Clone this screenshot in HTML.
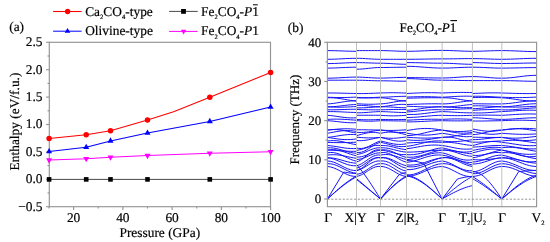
<!DOCTYPE html>
<html><head><meta charset="utf-8"><title>Fe2CO4 enthalpy and phonons</title>
<style>html,body{margin:0;padding:0;background:#fff;} svg{display:block;} text{font-family:"Liberation Serif", "Times New Roman", serif;fill:#000;text-rendering:geometricPrecision;stroke:#000;stroke-width:0.18px;}</style>
</head><body>
<svg width="550" height="242" viewBox="0 0 550 242">
<rect width="550" height="242" fill="#fff"/>
<rect x="49.3" y="42.3" width="221.20" height="164.40" fill="none" stroke="#959595" stroke-width="1.15"/>
<line x1="46.10" y1="206.70" x2="49.3" y2="206.70" stroke="#959595" stroke-width="1.15"/>
<line x1="47.50" y1="193.00" x2="49.3" y2="193.00" stroke="#959595" stroke-width="1.15"/>
<line x1="46.10" y1="179.30" x2="49.3" y2="179.30" stroke="#959595" stroke-width="1.15"/>
<line x1="47.50" y1="165.60" x2="49.3" y2="165.60" stroke="#959595" stroke-width="1.15"/>
<line x1="46.10" y1="151.90" x2="49.3" y2="151.90" stroke="#959595" stroke-width="1.15"/>
<line x1="47.50" y1="138.20" x2="49.3" y2="138.20" stroke="#959595" stroke-width="1.15"/>
<line x1="46.10" y1="124.50" x2="49.3" y2="124.50" stroke="#959595" stroke-width="1.15"/>
<line x1="47.50" y1="110.80" x2="49.3" y2="110.80" stroke="#959595" stroke-width="1.15"/>
<line x1="46.10" y1="97.10" x2="49.3" y2="97.10" stroke="#959595" stroke-width="1.15"/>
<line x1="47.50" y1="83.40" x2="49.3" y2="83.40" stroke="#959595" stroke-width="1.15"/>
<line x1="46.10" y1="69.70" x2="49.3" y2="69.70" stroke="#959595" stroke-width="1.15"/>
<line x1="47.50" y1="56.00" x2="49.3" y2="56.00" stroke="#959595" stroke-width="1.15"/>
<line x1="46.10" y1="42.30" x2="49.3" y2="42.30" stroke="#959595" stroke-width="1.15"/>
<line x1="49.00" y1="206.7" x2="49.00" y2="208.50" stroke="#959595" stroke-width="1.15"/>
<line x1="73.62" y1="206.7" x2="73.62" y2="209.90" stroke="#959595" stroke-width="1.15"/>
<line x1="98.24" y1="206.7" x2="98.24" y2="208.50" stroke="#959595" stroke-width="1.15"/>
<line x1="122.87" y1="206.7" x2="122.87" y2="209.90" stroke="#959595" stroke-width="1.15"/>
<line x1="147.49" y1="206.7" x2="147.49" y2="208.50" stroke="#959595" stroke-width="1.15"/>
<line x1="172.11" y1="206.7" x2="172.11" y2="209.90" stroke="#959595" stroke-width="1.15"/>
<line x1="196.73" y1="206.7" x2="196.73" y2="208.50" stroke="#959595" stroke-width="1.15"/>
<line x1="221.36" y1="206.7" x2="221.36" y2="209.90" stroke="#959595" stroke-width="1.15"/>
<line x1="245.98" y1="206.7" x2="245.98" y2="208.50" stroke="#959595" stroke-width="1.15"/>
<line x1="270.60" y1="206.7" x2="270.60" y2="209.90" stroke="#959595" stroke-width="1.15"/>
<text x="42.5" y="210.60" text-anchor="end" font-size="13.4">−0.5</text>
<text x="42.5" y="183.20" text-anchor="end" font-size="13.4">0.0</text>
<text x="42.5" y="155.80" text-anchor="end" font-size="13.4">0.5</text>
<text x="42.5" y="128.40" text-anchor="end" font-size="13.4">1.0</text>
<text x="42.5" y="101.00" text-anchor="end" font-size="13.4">1.5</text>
<text x="42.5" y="73.60" text-anchor="end" font-size="13.4">2.0</text>
<text x="42.5" y="46.20" text-anchor="end" font-size="13.4">2.5</text>
<text x="73.62" y="222.3" text-anchor="middle" font-size="13.4">20</text>
<text x="122.87" y="222.3" text-anchor="middle" font-size="13.4">40</text>
<text x="172.11" y="222.3" text-anchor="middle" font-size="13.4">60</text>
<text x="221.36" y="222.3" text-anchor="middle" font-size="13.4">80</text>
<text x="270.60" y="222.3" text-anchor="middle" font-size="13.4">100</text>
<text x="159.8" y="237.1" text-anchor="middle" font-size="13.4">Pressure (GPa)</text>
<text transform="translate(19.0,121.5) rotate(-90)" x="0" y="0" text-anchor="middle" font-size="13.4">Enthalpy (eV/f.u.)</text>
<text x="9.2" y="31.0" font-size="13.4">(a)</text>
<polyline points="49.10,179.40 86.20,179.40 110.50,179.40 147.50,179.40 209.80,179.40 270.60,179.40" fill="none" stroke="#333" stroke-width="0.9" stroke-linejoin="round"/>
<polyline points="49.10,160.10 86.20,158.70 110.50,157.20 147.50,155.60 209.80,153.30 270.60,151.70" fill="none" stroke="#ff00ff" stroke-width="1.05" stroke-linejoin="round"/>
<polyline points="49.10,151.60 86.20,147.30 110.50,140.90 147.50,133.10 209.80,121.40 270.60,107.00" fill="none" stroke="#0000ff" stroke-width="1.05" stroke-linejoin="round"/>
<polyline points="49.10,138.60 86.20,134.80 110.50,130.70 147.50,119.90 173.60,111.70 209.80,97.20 270.60,72.50" fill="none" stroke="#ff0000" stroke-width="1.05" stroke-linejoin="round"/>
<rect x="46.80" y="177.10" width="4.6" height="4.6" fill="#000"/>
<rect x="83.90" y="177.10" width="4.6" height="4.6" fill="#000"/>
<rect x="108.20" y="177.10" width="4.6" height="4.6" fill="#000"/>
<rect x="145.20" y="177.10" width="4.6" height="4.6" fill="#000"/>
<rect x="207.50" y="177.10" width="4.6" height="4.6" fill="#000"/>
<rect x="268.30" y="177.10" width="4.6" height="4.6" fill="#000"/>
<polygon points="49.10,163.63 46.10,158.33 52.10,158.33" fill="#ff00ff"/>
<polygon points="86.20,162.23 83.20,156.93 89.20,156.93" fill="#ff00ff"/>
<polygon points="110.50,160.73 107.50,155.43 113.50,155.43" fill="#ff00ff"/>
<polygon points="147.50,159.13 144.50,153.83 150.50,153.83" fill="#ff00ff"/>
<polygon points="209.80,156.83 206.80,151.53 212.80,151.53" fill="#ff00ff"/>
<polygon points="270.60,155.23 267.60,149.93 273.60,149.93" fill="#ff00ff"/>
<polygon points="49.10,148.07 46.10,153.37 52.10,153.37" fill="#0000ff"/>
<polygon points="86.20,143.77 83.20,149.07 89.20,149.07" fill="#0000ff"/>
<polygon points="110.50,137.37 107.50,142.67 113.50,142.67" fill="#0000ff"/>
<polygon points="147.50,129.57 144.50,134.87 150.50,134.87" fill="#0000ff"/>
<polygon points="209.80,117.87 206.80,123.17 212.80,123.17" fill="#0000ff"/>
<polygon points="270.60,103.47 267.60,108.77 273.60,108.77" fill="#0000ff"/>
<circle cx="49.10" cy="138.60" r="2.75" fill="#ff0000"/>
<circle cx="86.20" cy="134.80" r="2.75" fill="#ff0000"/>
<circle cx="110.50" cy="130.70" r="2.75" fill="#ff0000"/>
<circle cx="147.50" cy="119.90" r="2.75" fill="#ff0000"/>
<circle cx="209.80" cy="97.20" r="2.75" fill="#ff0000"/>
<circle cx="270.60" cy="72.50" r="2.75" fill="#ff0000"/>
<line x1="53.1" y1="11.5" x2="81.6" y2="11.5" stroke="#ff0000" stroke-width="1.1"/>
<circle cx="67.60" cy="11.50" r="2.65" fill="#ff0000"/>
<text x="85.2" y="15.6" font-size="13.4">Ca<tspan font-size="6.6" dy="3.5">2</tspan><tspan dy="-3.5">CO</tspan><tspan font-size="6.6" dy="3.5">4</tspan><tspan dy="-3.5">-type</tspan></text>
<line x1="53.1" y1="31.2" x2="81.6" y2="31.2" stroke="#0000ff" stroke-width="1.0"/>
<polygon points="67.50,28.00 64.70,32.80 70.30,32.80" fill="#0000ff"/>
<text x="85.2" y="35.1" font-size="13.4">Olivine-type</text>
<line x1="169.1" y1="11.4" x2="197.7" y2="11.4" stroke="#333" stroke-width="0.9"/>
<rect x="181.10" y="9.00" width="4.8" height="4.8" fill="#000"/>
<text x="201.0" y="15.6" font-size="13.4">Fe<tspan font-size="6.6" dy="3.5">2</tspan><tspan dy="-3.5">CO</tspan><tspan font-size="6.6" dy="3.5">4</tspan><tspan dy="-3.5">-</tspan><tspan font-style="italic">P</tspan>1</text>
<line x1="253.0" y1="4.8" x2="257.8" y2="4.8" stroke="#000" stroke-width="1.0"/>
<line x1="169.1" y1="31.4" x2="197.7" y2="31.4" stroke="#ff00ff" stroke-width="1.0"/>
<polygon points="183.60,34.60 180.90,29.80 186.30,29.80" fill="#ff00ff"/>
<text x="201.0" y="35.1" font-size="13.4">Fe<tspan font-size="6.6" dy="3.5">2</tspan><tspan dy="-3.5">CO</tspan><tspan font-size="6.6" dy="3.5">4</tspan><tspan dy="-3.5">-</tspan><tspan font-style="italic">P</tspan>1</text>
<path d="M327.40,50.60 L331.04,50.63 L334.67,50.70 L338.31,50.82 L341.95,50.95 L345.59,51.08 L349.23,51.20 L352.86,51.27 L356.50,51.30 M356.50,50.60 L359.50,50.60 L362.50,50.60 L365.50,50.60 L368.50,50.60 L371.50,50.60 L374.50,50.60 L377.50,50.60 L380.50,50.60 M380.50,50.60 L383.75,50.63 L387.00,50.70 L390.25,50.82 L393.50,50.95 L396.75,51.08 L400.00,51.20 L403.25,51.27 L406.50,51.30 M406.50,51.30 L410.95,51.27 L415.40,51.17 L419.85,51.02 L424.30,50.85 L428.75,50.68 L433.20,50.53 L437.65,50.43 L442.10,50.40 M442.10,50.40 L445.89,50.43 L449.68,50.53 L453.46,50.68 L457.25,50.85 L461.04,51.02 L464.82,51.17 L468.61,51.27 L472.40,51.30 M472.40,51.30 L476.07,51.27 L479.75,51.20 L483.43,51.08 L487.10,50.95 L490.77,50.82 L494.45,50.70 L498.12,50.63 L501.80,50.60 M501.80,50.60 L506.15,50.64 L510.50,50.75 L514.85,50.91 L519.20,51.10 L523.55,51.29 L527.90,51.45 L532.25,51.56 L536.60,51.60 M327.40,59.30 L331.04,59.26 L334.67,59.15 L338.31,58.99 L341.95,58.80 L345.59,58.61 L349.23,58.45 L352.86,58.34 L356.50,58.30 M356.50,58.30 L359.50,58.34 L362.50,58.45 L365.50,58.61 L368.50,58.80 L371.50,58.99 L374.50,59.15 L377.50,59.26 L380.50,59.30 M380.50,59.30 L383.75,59.30 L387.00,59.30 L390.25,59.30 L393.50,59.30 L396.75,59.30 L400.00,59.30 L403.25,59.30 L406.50,59.30 M406.50,59.30 L410.95,59.28 L415.40,59.24 L419.85,59.18 L424.30,59.10 L428.75,59.02 L433.20,58.96 L437.65,58.92 L442.10,58.90 M442.10,58.90 L445.89,58.89 L449.68,58.86 L453.46,58.81 L457.25,58.75 L461.04,58.69 L464.82,58.64 L468.61,58.61 L472.40,58.60 M472.40,58.60 L476.07,58.63 L479.75,58.70 L483.43,58.82 L487.10,58.95 L490.77,59.08 L494.45,59.20 L498.12,59.27 L501.80,59.30 M501.80,59.30 L506.15,59.26 L510.50,59.15 L514.85,58.99 L519.20,58.80 L523.55,58.61 L527.90,58.45 L532.25,58.34 L536.60,58.30 M327.40,63.60 L331.04,63.56 L334.67,63.45 L338.31,63.29 L341.95,63.10 L345.59,62.91 L349.23,62.75 L352.86,62.64 L356.50,62.60 M356.50,62.60 L359.50,62.62 L362.50,62.69 L365.50,62.79 L368.50,62.90 L371.50,63.01 L374.50,63.11 L377.50,63.18 L380.50,63.20 M380.50,63.20 L383.75,63.24 L387.00,63.36 L390.25,63.54 L393.50,63.75 L396.75,63.96 L400.00,64.14 L403.25,64.26 L406.50,64.30 M406.50,62.60 L410.95,62.62 L415.40,62.69 L419.85,62.79 L424.30,62.90 L428.75,63.01 L433.20,63.11 L437.65,63.18 L442.10,63.20 M442.10,63.20 L445.89,63.24 L449.68,63.36 L453.46,63.54 L457.25,63.75 L461.04,63.96 L464.82,64.14 L468.61,64.26 L472.40,64.30 M472.40,62.60 L476.07,62.63 L479.75,62.73 L483.43,62.88 L487.10,63.05 L490.77,63.22 L494.45,63.37 L498.12,63.47 L501.80,63.50 M501.80,63.50 L506.15,63.48 L510.50,63.43 L514.85,63.35 L519.20,63.25 L523.55,63.15 L527.90,63.07 L532.25,63.02 L536.60,63.00 M327.40,68.10 L331.04,68.07 L334.67,67.97 L338.31,67.82 L341.95,67.65 L345.59,67.48 L349.23,67.33 L352.86,67.23 L356.50,67.20 M356.50,69.20 L359.50,69.14 L362.50,68.95 L365.50,68.68 L368.50,68.35 L371.50,68.02 L374.50,67.75 L377.50,67.56 L380.50,67.50 M380.50,67.50 L383.75,67.49 L387.00,67.46 L390.25,67.41 L393.50,67.35 L396.75,67.29 L400.00,67.24 L403.25,67.21 L406.50,67.20 M406.50,66.30 L410.95,66.37 L415.40,66.56 L419.85,66.86 L424.30,67.20 L428.75,67.54 L433.20,67.84 L437.65,68.03 L442.10,68.10 M442.10,68.10 L445.89,68.07 L449.68,67.97 L453.46,67.82 L457.25,67.65 L461.04,67.48 L464.82,67.33 L468.61,67.23 L472.40,67.20 M472.40,67.20 L476.07,67.23 L479.75,67.33 L483.43,67.48 L487.10,67.65 L490.77,67.82 L494.45,67.97 L498.12,68.07 L501.80,68.10 M501.80,68.10 L506.15,68.08 L510.50,68.03 L514.85,67.95 L519.20,67.85 L523.55,67.75 L527.90,67.67 L532.25,67.62 L536.60,67.60 M327.40,78.20 L331.04,78.16 L334.67,78.04 L338.31,77.86 L341.95,77.65 L345.59,77.44 L349.23,77.26 L352.86,77.14 L356.50,77.10 M356.50,77.10 L359.50,77.14 L362.50,77.25 L365.50,77.41 L368.50,77.60 L371.50,77.79 L374.50,77.95 L377.50,78.06 L380.50,78.10 M380.50,78.10 L383.75,78.07 L387.00,77.98 L390.25,77.85 L393.50,77.70 L396.75,77.55 L400.00,77.42 L403.25,77.33 L406.50,77.30 M406.50,77.60 L410.95,77.62 L415.40,77.66 L419.85,77.72 L424.30,77.80 L428.75,77.88 L433.20,77.94 L437.65,77.98 L442.10,78.00 M442.10,78.00 L445.89,77.95 L449.68,77.79 L453.46,77.57 L457.25,77.30 L461.04,77.03 L464.82,76.81 L468.61,76.65 L472.40,76.60 M472.40,76.60 L476.07,76.66 L479.75,76.83 L483.43,77.09 L487.10,77.40 L490.77,77.71 L494.45,77.97 L498.12,78.14 L501.80,78.20 M501.80,78.20 L506.15,78.09 L510.50,77.78 L514.85,77.30 L519.20,76.75 L523.55,76.20 L527.90,75.72 L532.25,75.41 L536.60,75.30 M327.40,80.20 L331.04,80.20 L334.67,80.20 L338.31,80.20 L341.95,80.20 L345.59,80.20 L349.23,80.20 L352.86,80.20 L356.50,80.20 M356.50,80.20 L359.50,80.22 L362.50,80.29 L365.50,80.39 L368.50,80.50 L371.50,80.61 L374.50,80.71 L377.50,80.78 L380.50,80.80 M380.50,80.80 L383.75,80.82 L387.00,80.86 L390.25,80.92 L393.50,81.00 L396.75,81.08 L400.00,81.14 L403.25,81.18 L406.50,81.20 M406.50,78.60 L410.95,78.66 L415.40,78.83 L419.85,79.09 L424.30,79.40 L428.75,79.71 L433.20,79.97 L437.65,80.14 L442.10,80.20 M442.10,80.20 L445.89,80.22 L449.68,80.26 L453.46,80.32 L457.25,80.40 L461.04,80.48 L464.82,80.54 L468.61,80.58 L472.40,80.60 M472.40,80.60 L476.07,80.60 L479.75,80.60 L483.43,80.60 L487.10,80.60 L490.77,80.60 L494.45,80.60 L498.12,80.60 L501.80,80.60 M501.80,80.60 L506.15,80.63 L510.50,80.70 L514.85,80.82 L519.20,80.95 L523.55,81.08 L527.90,81.20 L532.25,81.27 L536.60,81.30 M327.40,93.00 L330.31,92.98 L333.22,92.99 L336.13,93.03 L339.04,93.09 L341.95,93.16 L344.86,93.24 L347.77,93.32 L350.68,93.40 L353.59,93.46 L356.50,93.50 M327.40,97.20 L330.31,97.32 L333.22,97.42 L336.13,97.50 L339.04,97.54 L341.95,97.54 L344.86,97.51 L347.77,97.44 L350.68,97.34 L353.59,97.22 L356.50,97.10 M327.40,97.80 L330.31,97.74 L333.22,97.83 L336.13,98.07 L339.04,98.44 L341.95,98.90 L344.86,99.40 L347.77,99.90 L350.68,100.34 L353.59,100.68 L356.50,100.90 M327.40,103.90 L330.31,103.72 L333.22,103.42 L336.13,103.01 L339.04,102.55 L341.95,102.07 L344.86,101.62 L347.77,101.25 L350.68,100.99 L353.59,100.87 L356.50,100.90 M327.40,106.80 L330.31,106.79 L333.22,106.67 L336.13,106.45 L339.04,106.15 L341.95,105.80 L344.86,105.44 L347.77,105.10 L350.68,104.81 L353.59,104.60 L356.50,104.50 M327.40,106.80 L330.31,106.96 L333.22,107.09 L336.13,107.17 L339.04,107.21 L341.95,107.19 L344.86,107.11 L347.77,107.00 L350.68,106.84 L353.59,106.67 L356.50,106.50 M327.40,109.80 L330.31,109.81 L333.22,109.80 L336.13,109.75 L339.04,109.68 L341.95,109.59 L344.86,109.50 L347.77,109.40 L350.68,109.31 L353.59,109.24 L356.50,109.20 M327.40,111.60 L330.31,111.58 L333.22,111.61 L336.13,111.69 L339.04,111.79 L341.95,111.93 L344.86,112.07 L347.77,112.21 L350.68,112.34 L353.59,112.44 L356.50,112.50 M327.40,115.30 L330.31,115.54 L333.22,115.87 L336.13,116.28 L339.04,116.71 L341.95,117.12 L344.86,117.48 L347.77,117.75 L350.68,117.90 L353.59,117.92 L356.50,117.80 M327.40,119.40 L330.31,119.25 L333.22,119.16 L336.13,119.12 L339.04,119.16 L341.95,119.26 L344.86,119.41 L347.77,119.59 L350.68,119.80 L353.59,120.01 L356.50,120.20 M327.40,120.70 L330.31,120.88 L333.22,121.14 L336.13,121.46 L339.04,121.80 L341.95,122.13 L344.86,122.42 L347.77,122.64 L350.68,122.76 L353.59,122.78 L356.50,122.70 M327.40,130.10 L330.31,129.82 L333.22,129.53 L336.13,129.25 L339.04,129.02 L341.95,128.86 L344.86,128.78 L347.77,128.78 L350.68,128.88 L353.59,129.06 L356.50,129.30 M327.40,130.10 L330.31,129.73 L333.22,129.55 L336.13,129.57 L339.04,129.78 L341.95,130.18 L344.86,130.71 L347.77,131.33 L350.68,131.98 L353.59,132.59 L356.50,133.10 M327.40,133.30 L330.31,132.78 L333.22,132.22 L336.13,131.67 L339.04,131.19 L341.95,130.82 L344.86,130.60 L347.77,130.55 L350.68,130.68 L353.59,130.97 L356.50,131.40 M327.40,137.40 L330.31,137.10 L333.22,136.69 L336.13,136.22 L339.04,135.74 L341.95,135.28 L344.86,134.90 L347.77,134.64 L350.68,134.51 L353.59,134.53 L356.50,134.70 M327.40,137.40 L330.31,137.83 L333.22,138.29 L336.13,138.73 L339.04,139.12 L341.95,139.41 L344.86,139.58 L347.77,139.61 L350.68,139.50 L353.59,139.25 L356.50,138.90 M327.40,141.00 L330.31,140.70 L333.22,140.60 L336.13,140.73 L339.04,141.06 L341.95,141.57 L344.86,142.21 L347.77,142.90 L350.68,143.60 L353.59,144.21 L356.50,144.70 M327.40,142.40 L330.31,142.50 L333.22,142.57 L336.13,142.62 L339.04,142.64 L341.95,142.63 L344.86,142.58 L347.77,142.51 L350.68,142.41 L353.59,142.31 L356.50,142.20 M327.40,145.50 L330.31,145.75 L333.22,146.11 L336.13,146.57 L339.04,147.06 L341.95,147.56 L344.86,147.99 L347.77,148.33 L350.68,148.54 L353.59,148.60 L356.50,148.50 M327.40,147.80 L330.31,147.78 L333.22,148.03 L336.13,148.52 L339.04,149.21 L341.95,150.04 L344.86,150.91 L347.77,151.75 L350.68,152.47 L353.59,153.01 L356.50,153.30 M327.40,150.10 L330.31,150.19 L333.22,150.33 L336.13,150.50 L339.04,150.70 L341.95,150.89 L344.86,151.07 L347.77,151.21 L350.68,151.30 L353.59,151.33 L356.50,151.30 M327.40,150.10 L330.31,149.70 L333.22,149.62 L336.13,149.86 L339.04,150.41 L341.95,151.20 L344.86,152.17 L347.77,153.21 L350.68,154.23 L353.59,155.12 L356.50,155.80 M327.40,152.80 L330.31,152.46 L333.22,152.57 L336.13,153.11 L339.04,154.03 L341.95,155.24 L344.86,156.62 L347.77,158.04 L350.68,159.36 L353.59,160.45 L356.50,161.20 M327.40,155.10 L330.31,154.81 L333.22,154.71 L336.13,154.81 L339.04,155.09 L341.95,155.52 L344.86,156.08 L347.77,156.69 L350.68,157.30 L353.59,157.86 L356.50,158.30 M327.40,157.80 L330.31,158.22 L333.22,158.98 L336.13,160.01 L339.04,161.22 L341.95,162.47 L344.86,163.66 L347.77,164.66 L350.68,165.37 L353.59,165.73 L356.50,165.70 M327.40,157.80 L330.31,157.84 L333.22,158.15 L336.13,158.68 L339.04,159.39 L341.95,160.21 L344.86,161.06 L347.77,161.85 L350.68,162.51 L353.59,162.98 L356.50,163.20 M327.40,161.00 L330.31,161.30 L333.22,162.04 L336.13,163.15 L339.04,164.52 L341.95,166.02 L344.86,167.50 L347.77,168.81 L350.68,169.83 L353.59,170.46 L356.50,170.63 M327.40,163.70 L330.31,163.78 L333.22,164.32 L336.13,165.26 L339.04,166.52 L341.95,167.96 L344.86,169.45 L347.77,170.84 L350.68,171.99 L353.59,172.80 L356.50,173.18 M327.40,166.50 L330.31,166.89 L333.22,167.73 L336.13,168.93 L339.04,170.37 L341.95,171.93 L344.86,173.43 L347.77,174.75 L350.68,175.74 L353.59,176.31 L356.50,176.40 M356.50,93.50 L358.90,93.55 L361.30,93.57 L363.70,93.56 L366.10,93.52 L368.50,93.45 L370.90,93.36 L373.30,93.27 L375.70,93.17 L378.10,93.07 L380.50,93.00 M356.50,97.40 L358.90,97.49 L361.30,97.57 L363.70,97.62 L366.10,97.63 L368.50,97.62 L370.90,97.57 L373.30,97.50 L375.70,97.41 L378.10,97.30 L380.50,97.20 M356.50,97.90 L358.90,97.92 L361.30,97.94 L363.70,97.95 L366.10,97.95 L368.50,97.94 L370.90,97.92 L373.30,97.89 L375.70,97.86 L378.10,97.83 L380.50,97.80 M356.50,103.70 L358.90,103.84 L361.30,103.98 L363.70,104.11 L366.10,104.20 L368.50,104.25 L370.90,104.26 L373.30,104.22 L375.70,104.15 L378.10,104.03 L380.50,103.90 M356.50,105.40 L358.90,105.37 L361.30,105.40 L363.70,105.51 L366.10,105.67 L368.50,105.88 L370.90,106.10 L373.30,106.33 L375.70,106.53 L378.10,106.70 L380.50,106.80 M356.50,107.80 L358.90,107.85 L361.30,107.84 L363.70,107.78 L366.10,107.68 L368.50,107.53 L370.90,107.37 L373.30,107.20 L375.70,107.03 L378.10,106.90 L380.50,106.80 M356.50,109.50 L358.90,109.54 L361.30,109.60 L363.70,109.65 L366.10,109.71 L368.50,109.76 L370.90,109.80 L373.30,109.83 L375.70,109.84 L378.10,109.83 L380.50,109.80 M356.50,112.80 L358.90,112.80 L361.30,112.74 L363.70,112.63 L366.10,112.48 L368.50,112.30 L370.90,112.11 L373.30,111.92 L375.70,111.77 L378.10,111.66 L380.50,111.60 M356.50,115.30 L358.90,115.28 L361.30,115.27 L363.70,115.26 L366.10,115.25 L368.50,115.25 L370.90,115.25 L373.30,115.26 L375.70,115.27 L378.10,115.28 L380.50,115.30 M356.50,119.40 L358.90,119.53 L361.30,119.64 L363.70,119.73 L366.10,119.79 L368.50,119.81 L370.90,119.79 L373.30,119.73 L375.70,119.64 L378.10,119.53 L380.50,119.40 M356.50,120.60 L358.90,120.77 L361.30,120.92 L363.70,121.05 L366.10,121.14 L368.50,121.18 L370.90,121.17 L373.30,121.11 L375.70,121.00 L378.10,120.86 L380.50,120.70 M356.50,129.80 L358.90,129.78 L361.30,129.77 L363.70,129.78 L366.10,129.81 L368.50,129.85 L370.90,129.90 L373.30,129.95 L375.70,130.01 L378.10,130.06 L380.50,130.10 M356.50,132.30 L358.90,132.45 L361.30,132.48 L363.70,132.38 L366.10,132.16 L368.50,131.86 L370.90,131.48 L373.30,131.08 L375.70,130.70 L378.10,130.36 L380.50,130.10 M356.50,135.60 L358.90,135.00 L361.30,134.35 L363.70,133.70 L366.10,133.13 L368.50,132.69 L370.90,132.42 L373.30,132.35 L375.70,132.49 L378.10,132.81 L380.50,133.30 M356.50,140.50 L358.90,140.67 L361.30,140.68 L363.70,140.51 L366.10,140.20 L368.50,139.76 L370.90,139.24 L373.30,138.69 L375.70,138.17 L378.10,137.72 L380.50,137.40 M356.50,137.20 L358.90,137.39 L361.30,137.57 L363.70,137.72 L366.10,137.83 L368.50,137.89 L370.90,137.89 L373.30,137.83 L375.70,137.73 L378.10,137.58 L380.50,137.40 M356.50,148.00 L358.90,148.44 L361.30,148.49 L363.70,148.15 L366.10,147.46 L368.50,146.47 L370.90,145.29 L373.30,144.04 L375.70,142.83 L378.10,141.78 L380.50,141.00 M356.50,152.40 L358.90,152.55 L361.30,152.20 L363.70,151.38 L366.10,150.17 L368.50,148.69 L370.90,147.08 L373.30,145.50 L375.70,144.11 L378.10,143.04 L380.50,142.40 M356.50,150.40 L358.90,150.01 L361.30,149.43 L363.70,148.69 L366.10,147.89 L368.50,147.09 L370.90,146.37 L373.30,145.81 L375.70,145.46 L378.10,145.35 L380.50,145.50 M356.50,154.50 L358.90,154.19 L361.30,153.59 L363.70,152.75 L366.10,151.75 L368.50,150.69 L370.90,149.68 L373.30,148.81 L375.70,148.17 L378.10,147.82 L380.50,147.80 M356.50,157.00 L358.90,157.04 L361.30,156.74 L363.70,156.12 L366.10,155.26 L368.50,154.22 L370.90,153.13 L373.30,152.07 L375.70,151.16 L378.10,150.48 L380.50,150.10 M356.50,162.00 L358.90,161.12 L361.30,159.74 L363.70,158.00 L366.10,156.07 L368.50,154.14 L370.90,152.40 L373.30,151.01 L375.70,150.11 L378.10,149.80 L380.50,150.10 M356.50,159.50 L358.90,159.29 L361.30,158.77 L363.70,158.00 L366.10,157.04 L368.50,156.00 L370.90,154.97 L373.30,154.06 L375.70,153.35 L378.10,152.92 L380.50,152.80 M356.50,165.70 L358.90,165.03 L361.30,163.91 L363.70,162.44 L366.10,160.77 L368.50,159.07 L370.90,157.50 L373.30,156.21 L375.70,155.33 L378.10,154.95 L380.50,155.10 M356.50,170.70 L358.90,169.91 L361.30,168.57 L363.70,166.80 L366.10,164.79 L368.50,162.72 L370.90,160.80 L373.30,159.22 L375.70,158.13 L378.10,157.64 L380.50,157.80 M356.50,168.20 L358.90,167.40 L361.30,166.17 L363.70,164.63 L366.10,162.93 L368.50,161.24 L370.90,159.72 L373.30,158.52 L375.70,157.76 L378.10,157.51 L380.50,157.80 M356.50,170.35 L358.90,169.85 L361.30,168.94 L363.70,167.71 L366.10,166.28 L368.50,164.79 L370.90,163.39 L373.30,162.21 L375.70,161.37 L378.10,160.95 L380.50,161.00 M356.50,174.24 L358.90,173.90 L361.30,173.08 L363.70,171.85 L366.10,170.35 L368.50,168.71 L370.90,167.09 L373.30,165.66 L375.70,164.55 L378.10,163.88 L380.50,163.70 M356.50,176.40 L358.90,175.85 L361.30,174.86 L363.70,173.55 L366.10,172.02 L368.50,170.44 L370.90,168.96 L373.30,167.73 L375.70,166.85 L378.10,166.43 L380.50,166.50 M380.50,93.00 L383.10,92.90 L385.70,92.82 L388.30,92.76 L390.90,92.73 L393.50,92.73 L396.10,92.76 L398.70,92.82 L401.30,92.90 L403.90,93.00 L406.50,93.10 M380.50,97.20 L383.10,97.17 L385.70,97.10 L388.30,97.00 L390.90,96.87 L393.50,96.73 L396.10,96.59 L398.70,96.47 L401.30,96.38 L403.90,96.32 L406.50,96.30 M380.50,97.80 L383.10,97.91 L385.70,98.16 L388.30,98.53 L390.90,98.97 L393.50,99.46 L396.10,99.93 L398.70,100.35 L401.30,100.67 L403.90,100.86 L406.50,100.90 M380.50,103.90 L383.10,103.74 L385.70,103.45 L388.30,103.05 L390.90,102.59 L393.50,102.12 L396.10,101.67 L398.70,101.29 L401.30,101.02 L403.90,100.89 L406.50,100.90 M380.50,106.80 L383.10,106.56 L385.70,106.23 L388.30,105.84 L390.90,105.44 L393.50,105.05 L396.10,104.73 L398.70,104.49 L401.30,104.37 L403.90,104.37 L406.50,104.50 M380.50,106.80 L383.10,106.79 L385.70,106.84 L388.30,106.93 L390.90,107.05 L393.50,107.20 L396.10,107.36 L398.70,107.52 L401.30,107.65 L403.90,107.75 L406.50,107.80 M380.50,109.80 L383.10,109.74 L385.70,109.68 L388.30,109.61 L390.90,109.55 L393.50,109.49 L396.10,109.45 L398.70,109.43 L401.30,109.44 L403.90,109.46 L406.50,109.50 M380.50,111.60 L383.10,111.65 L385.70,111.73 L388.30,111.85 L390.90,111.99 L393.50,112.13 L396.10,112.26 L398.70,112.38 L401.30,112.46 L403.90,112.50 L406.50,112.50 M380.50,115.30 L383.10,115.47 L385.70,115.62 L388.30,115.74 L390.90,115.82 L393.50,115.84 L396.10,115.82 L398.70,115.74 L401.30,115.62 L403.90,115.47 L406.50,115.30 M380.50,119.40 L383.10,119.47 L385.70,119.53 L388.30,119.58 L390.90,119.62 L393.50,119.63 L396.10,119.62 L398.70,119.58 L401.30,119.53 L403.90,119.47 L406.50,119.40 M380.50,120.70 L383.10,120.71 L385.70,120.74 L388.30,120.78 L390.90,120.82 L393.50,120.87 L396.10,120.91 L398.70,120.95 L401.30,120.98 L403.90,121.00 L406.50,121.00 M380.50,130.10 L383.10,130.24 L385.70,130.35 L388.30,130.42 L390.90,130.44 L393.50,130.42 L396.10,130.35 L398.70,130.24 L401.30,130.11 L403.90,129.95 L406.50,129.80 M380.50,130.10 L383.10,130.37 L385.70,130.72 L388.30,131.12 L390.90,131.53 L393.50,131.90 L396.10,132.21 L398.70,132.42 L401.30,132.50 L403.90,132.46 L406.50,132.30 M380.50,133.30 L383.10,132.78 L385.70,132.39 L388.30,132.15 L390.90,132.09 L393.50,132.22 L396.10,132.52 L398.70,132.97 L401.30,133.52 L403.90,134.11 L406.50,134.70 M380.50,137.40 L383.10,137.97 L385.70,138.64 L388.30,139.33 L390.90,139.99 L393.50,140.55 L396.10,140.95 L398.70,141.15 L401.30,141.14 L403.90,140.92 L406.50,140.50 M380.50,137.40 L383.10,137.73 L385.70,138.01 L388.30,138.20 L390.90,138.29 L393.50,138.27 L396.10,138.14 L398.70,137.91 L401.30,137.61 L403.90,137.26 L406.50,136.90 M380.50,141.00 L383.10,141.53 L385.70,142.15 L388.30,142.79 L390.90,143.39 L393.50,143.90 L396.10,144.26 L398.70,144.43 L401.30,144.41 L403.90,144.19 L406.50,143.80 M380.50,142.40 L383.10,142.86 L385.70,143.47 L388.30,144.17 L390.90,144.88 L393.50,145.54 L396.10,146.09 L398.70,146.46 L401.30,146.63 L403.90,146.57 L406.50,146.30 M380.50,145.50 L383.10,145.47 L385.70,145.64 L388.30,146.00 L390.90,146.51 L393.50,147.12 L396.10,147.77 L398.70,148.41 L401.30,148.96 L403.90,149.37 L406.50,149.60 M380.50,147.80 L383.10,147.78 L385.70,147.97 L388.30,148.36 L390.90,148.90 L393.50,149.55 L396.10,150.23 L398.70,150.89 L401.30,151.45 L403.90,151.87 L406.50,152.10 M380.50,150.10 L383.10,149.79 L385.70,149.86 L388.30,150.32 L390.90,151.11 L393.50,152.16 L396.10,153.37 L398.70,154.61 L401.30,155.77 L403.90,156.73 L406.50,157.40 M380.50,150.10 L383.10,150.38 L385.70,150.85 L388.30,151.46 L390.90,152.17 L393.50,152.89 L396.10,153.56 L398.70,154.11 L401.30,154.49 L403.90,154.66 L406.50,154.60 M380.50,152.80 L383.10,152.49 L385.70,152.67 L388.30,153.32 L390.90,154.38 L393.50,155.75 L396.10,157.29 L398.70,158.85 L401.30,160.27 L403.90,161.43 L406.50,162.20 M380.50,155.10 L383.10,154.67 L385.70,154.50 L388.30,154.61 L390.90,154.97 L393.50,155.57 L396.10,156.33 L398.70,157.19 L401.30,158.06 L403.90,158.86 L406.50,159.50 M380.50,157.80 L383.10,157.69 L385.70,158.11 L388.30,159.00 L390.90,160.29 L393.50,161.84 L396.10,163.50 L398.70,165.11 L401.30,166.52 L403.90,167.59 L406.50,168.20 M380.50,157.80 L383.10,157.58 L385.70,157.76 L388.30,158.34 L390.90,159.24 L393.50,160.40 L396.10,161.69 L398.70,162.98 L401.30,164.15 L403.90,165.09 L406.50,165.70 M380.50,161.00 L383.10,160.91 L385.70,161.33 L388.30,162.21 L390.90,163.46 L393.50,164.96 L396.10,166.57 L398.70,168.13 L401.30,169.48 L403.90,170.49 L406.50,171.07 M380.50,163.70 L383.10,163.70 L385.70,164.21 L388.30,165.18 L390.90,166.52 L393.50,168.10 L396.10,169.76 L398.70,171.34 L401.30,172.68 L403.90,173.66 L406.50,174.17 M380.50,166.50 L383.10,166.64 L385.70,167.25 L388.30,168.28 L390.90,169.61 L393.50,171.12 L396.10,172.67 L398.70,174.09 L401.30,175.26 L403.90,176.06 L406.50,176.40 M406.50,93.50 L410.06,93.33 L413.62,93.16 L417.18,92.99 L420.74,92.85 L424.30,92.75 L427.86,92.70 L431.42,92.70 L434.98,92.76 L438.54,92.86 L442.10,93.00 M406.50,97.10 L410.06,96.95 L413.62,96.83 L417.18,96.73 L420.74,96.68 L424.30,96.67 L427.86,96.71 L431.42,96.79 L434.98,96.91 L438.54,97.05 L442.10,97.20 M406.50,98.20 L410.06,98.13 L413.62,98.05 L417.18,97.96 L420.74,97.88 L424.30,97.81 L427.86,97.76 L431.42,97.73 L434.98,97.73 L438.54,97.75 L442.10,97.80 M406.50,104.50 L410.06,104.40 L413.62,104.28 L417.18,104.15 L420.74,104.02 L424.30,103.92 L427.86,103.84 L431.42,103.80 L434.98,103.79 L438.54,103.83 L442.10,103.90 M406.50,106.20 L410.06,106.34 L413.62,106.49 L417.18,106.64 L420.74,106.78 L424.30,106.89 L427.86,106.97 L431.42,107.00 L434.98,106.97 L438.54,106.91 L442.10,106.80 M406.50,110.30 L410.06,110.09 L413.62,109.73 L417.18,109.25 L420.74,108.70 L424.30,108.14 L427.86,107.62 L431.42,107.19 L434.98,106.90 L438.54,106.76 L442.10,106.80 M406.50,112.00 L410.06,111.77 L413.62,111.45 L417.18,111.08 L420.74,110.70 L424.30,110.33 L427.86,110.02 L431.42,109.79 L434.98,109.67 L438.54,109.68 L442.10,109.80 M406.50,114.40 L410.06,114.50 L413.62,114.45 L417.18,114.26 L420.74,113.95 L424.30,113.54 L427.86,113.08 L431.42,112.61 L434.98,112.19 L438.54,111.84 L442.10,111.60 M406.50,117.50 L410.06,117.46 L413.62,117.31 L417.18,117.07 L420.74,116.77 L424.30,116.43 L427.86,116.09 L431.42,115.78 L434.98,115.53 L438.54,115.36 L442.10,115.30 M406.50,120.20 L410.06,120.05 L413.62,119.87 L417.18,119.69 L420.74,119.52 L424.30,119.38 L427.86,119.27 L431.42,119.22 L434.98,119.23 L438.54,119.29 L442.10,119.40 M406.50,121.90 L410.06,121.89 L413.62,121.82 L417.18,121.69 L420.74,121.53 L424.30,121.35 L427.86,121.16 L431.42,120.99 L434.98,120.85 L438.54,120.75 L442.10,120.70 M406.50,130.60 L410.06,130.00 L413.62,129.44 L417.18,128.97 L420.74,128.63 L424.30,128.46 L427.86,128.47 L431.42,128.67 L434.98,129.04 L438.54,129.53 L442.10,130.10 M406.50,135.60 L410.06,135.50 L413.62,135.14 L417.18,134.56 L420.74,133.81 L424.30,132.96 L427.86,132.11 L431.42,131.32 L434.98,130.69 L438.54,130.27 L442.10,130.10 M406.50,133.10 L410.06,133.70 L413.62,134.24 L417.18,134.69 L420.74,134.99 L424.30,135.11 L427.86,135.05 L431.42,134.81 L434.98,134.41 L438.54,133.89 L442.10,133.30 M406.50,139.70 L410.06,140.09 L413.62,140.33 L417.18,140.40 L420.74,140.29 L424.30,140.00 L427.86,139.58 L431.42,139.05 L434.98,138.47 L438.54,137.91 L442.10,137.40 M406.50,137.20 L410.06,137.45 L413.62,137.68 L417.18,137.88 L420.74,138.02 L424.30,138.08 L427.86,138.08 L431.42,137.99 L434.98,137.84 L438.54,137.64 L442.10,137.40 M406.50,146.30 L410.06,145.88 L413.62,145.23 L417.18,144.43 L420.74,143.56 L424.30,142.69 L427.86,141.92 L431.42,141.32 L434.98,140.94 L438.54,140.83 L442.10,141.00 M406.50,143.00 L410.06,142.82 L413.62,142.63 L417.18,142.44 L420.74,142.29 L424.30,142.17 L427.86,142.10 L431.42,142.09 L434.98,142.14 L438.54,142.25 L442.10,142.40 M406.50,148.80 L410.06,148.31 L413.62,147.70 L417.18,147.04 L420.74,146.39 L424.30,145.82 L427.86,145.37 L431.42,145.10 L434.98,145.03 L438.54,145.17 L442.10,145.50 M406.50,154.60 L410.06,154.77 L413.62,154.59 L417.18,154.08 L420.74,153.29 L424.30,152.29 L427.86,151.18 L431.42,150.08 L434.98,149.09 L438.54,148.30 L442.10,147.80 M406.50,152.10 L410.06,152.09 L413.62,151.99 L417.18,151.79 L420.74,151.53 L424.30,151.23 L427.86,150.91 L431.42,150.62 L434.98,150.37 L438.54,150.19 L442.10,150.10 M406.50,157.10 L410.06,157.27 L413.62,157.09 L417.18,156.56 L420.74,155.74 L424.30,154.72 L427.86,153.58 L431.42,152.45 L434.98,151.42 L438.54,150.62 L442.10,150.10 M406.50,159.70 L410.06,159.32 L413.62,158.64 L417.18,157.73 L420.74,156.67 L424.30,155.57 L427.86,154.54 L431.42,153.67 L434.98,153.06 L438.54,152.76 L442.10,152.80 M406.50,162.40 L410.06,161.88 L413.62,161.05 L417.18,160.00 L420.74,158.82 L424.30,157.64 L427.86,156.57 L431.42,155.71 L434.98,155.15 L438.54,154.94 L442.10,155.10 M406.50,164.90 L410.06,165.11 L413.62,164.95 L417.18,164.44 L420.74,163.63 L424.30,162.60 L427.86,161.44 L431.42,160.27 L434.98,159.21 L438.54,158.36 L442.10,157.80 M406.50,166.50 L410.06,166.89 L413.62,166.81 L417.18,166.28 L420.74,165.34 L424.30,164.09 L427.86,162.65 L431.42,161.16 L434.98,159.77 L438.54,158.61 L442.10,157.80 M406.50,169.59 L410.06,169.61 L413.62,169.20 L417.18,168.41 L420.74,167.32 L424.30,166.03 L427.86,164.67 L431.42,163.36 L434.98,162.25 L438.54,161.44 L442.10,161.00 M406.50,174.99 L410.06,174.89 L413.62,174.25 L417.18,173.13 L420.74,171.63 L424.30,169.92 L427.86,168.15 L431.42,166.49 L434.98,165.12 L438.54,164.15 L442.10,163.70 M406.50,176.40 L410.06,176.17 L413.62,175.48 L417.18,174.39 L420.74,173.02 L424.30,171.49 L427.86,169.96 L431.42,168.57 L434.98,167.47 L438.54,166.76 L442.10,166.50 M442.10,93.00 L445.13,92.89 L448.16,92.77 L451.19,92.65 L454.22,92.55 L457.25,92.47 L460.28,92.43 L463.31,92.42 L466.34,92.45 L469.37,92.51 L472.40,92.60 M442.10,97.20 L445.13,97.07 L448.16,96.90 L451.19,96.72 L454.22,96.54 L457.25,96.39 L460.28,96.26 L463.31,96.19 L466.34,96.17 L469.37,96.21 L472.40,96.30 M442.10,97.80 L445.13,97.77 L448.16,97.89 L451.19,98.15 L454.22,98.53 L457.25,99.00 L460.28,99.49 L463.31,99.97 L466.34,100.40 L469.37,100.71 L472.40,100.90 M442.10,103.90 L445.13,103.87 L448.16,103.70 L451.19,103.40 L454.22,103.01 L457.25,102.55 L460.28,102.08 L463.31,101.64 L466.34,101.27 L469.37,101.02 L472.40,100.90 M442.10,106.80 L445.13,106.89 L448.16,106.86 L451.19,106.71 L454.22,106.46 L457.25,106.13 L460.28,105.75 L463.31,105.36 L466.34,105.00 L469.37,104.70 L472.40,104.50 M442.10,106.80 L445.13,106.94 L448.16,107.11 L451.19,107.27 L454.22,107.43 L457.25,107.56 L460.28,107.65 L463.31,107.69 L466.34,107.67 L469.37,107.61 L472.40,107.50 M442.10,109.80 L445.13,109.77 L448.16,109.68 L451.19,109.55 L454.22,109.40 L457.25,109.23 L460.28,109.06 L463.31,108.91 L466.34,108.79 L469.37,108.72 L472.40,108.70 M442.10,111.60 L445.13,111.69 L448.16,111.82 L451.19,112.00 L454.22,112.19 L457.25,112.38 L460.28,112.56 L463.31,112.70 L466.34,112.79 L469.37,112.83 L472.40,112.80 M442.10,115.30 L445.13,115.41 L448.16,115.51 L451.19,115.59 L454.22,115.64 L457.25,115.66 L460.28,115.64 L463.31,115.59 L466.34,115.51 L469.37,115.41 L472.40,115.30 M442.10,119.40 L445.13,119.25 L448.16,119.11 L451.19,119.00 L454.22,118.93 L457.25,118.90 L460.28,118.93 L463.31,119.00 L466.34,119.11 L469.37,119.25 L472.40,119.40 M442.10,120.70 L445.13,120.76 L448.16,120.81 L451.19,120.86 L454.22,120.88 L457.25,120.89 L460.28,120.88 L463.31,120.86 L466.34,120.81 L469.37,120.76 L472.40,120.70 M442.10,130.10 L445.13,130.66 L448.16,131.27 L451.19,131.88 L454.22,132.42 L457.25,132.84 L460.28,133.10 L463.31,133.17 L466.34,133.05 L469.37,132.75 L472.40,132.30 M442.10,130.10 L445.13,130.46 L448.16,130.81 L451.19,131.12 L454.22,131.35 L457.25,131.48 L460.28,131.50 L463.31,131.41 L466.34,131.22 L469.37,130.94 L472.40,130.60 M442.10,133.30 L445.13,133.69 L448.16,134.18 L451.19,134.75 L454.22,135.32 L457.25,135.85 L460.28,136.28 L463.31,136.57 L466.34,136.69 L469.37,136.63 L472.40,136.40 M442.10,137.40 L445.13,137.29 L448.16,137.01 L451.19,136.61 L454.22,136.11 L457.25,135.56 L460.28,135.03 L463.31,134.55 L466.34,134.18 L469.37,133.96 L472.40,133.90 M442.10,137.40 L445.13,137.12 L448.16,137.10 L451.19,137.35 L454.22,137.84 L457.25,138.51 L460.28,139.32 L463.31,140.17 L466.34,140.99 L469.37,141.69 L472.40,142.20 M442.10,141.00 L445.13,141.33 L448.16,141.56 L451.19,141.67 L454.22,141.65 L457.25,141.51 L460.28,141.25 L463.31,140.90 L466.34,140.50 L469.37,140.09 L472.40,139.70 M442.10,142.40 L445.13,142.27 L448.16,142.30 L451.19,142.50 L454.22,142.83 L457.25,143.28 L460.28,143.79 L463.31,144.32 L466.34,144.81 L469.37,145.22 L472.40,145.50 M442.10,145.50 L445.13,145.95 L448.16,146.52 L451.19,147.15 L454.22,147.78 L457.25,148.35 L460.28,148.80 L463.31,149.09 L466.34,149.19 L469.37,149.09 L472.40,148.80 M442.10,147.80 L445.13,148.47 L448.16,149.24 L451.19,150.05 L454.22,150.80 L457.25,151.44 L460.28,151.89 L463.31,152.10 L466.34,152.07 L469.37,151.80 L472.40,151.30 M442.10,150.10 L445.13,150.06 L448.16,150.21 L451.19,150.53 L454.22,150.98 L457.25,151.53 L460.28,152.13 L463.31,152.70 L466.34,153.20 L469.37,153.58 L472.40,153.80 M442.10,150.10 L445.13,150.13 L448.16,150.47 L451.19,151.08 L454.22,151.90 L457.25,152.86 L460.28,153.85 L463.31,154.78 L466.34,155.57 L469.37,156.12 L472.40,156.40 M442.10,152.80 L445.13,153.52 L448.16,154.51 L451.19,155.67 L454.22,156.88 L457.25,158.04 L460.28,159.02 L463.31,159.72 L466.34,160.09 L469.37,160.08 L472.40,159.70 M442.10,155.10 L445.13,155.56 L448.16,156.33 L451.19,157.33 L454.22,158.48 L457.25,159.65 L460.28,160.73 L463.31,161.62 L466.34,162.23 L469.37,162.50 L472.40,162.40 M442.10,157.80 L445.13,157.61 L448.16,157.85 L451.19,158.53 L454.22,159.55 L457.25,160.83 L460.28,162.24 L463.31,163.64 L466.34,164.89 L469.37,165.88 L472.40,166.50 M442.10,157.80 L445.13,157.51 L448.16,157.60 L451.19,158.06 L454.22,158.83 L457.25,159.86 L460.28,161.03 L463.31,162.23 L466.34,163.35 L469.37,164.27 L472.40,164.90 M442.10,161.00 L445.13,161.54 L448.16,162.50 L451.19,163.79 L454.22,165.29 L457.25,166.84 L460.28,168.30 L463.31,169.52 L466.34,170.39 L469.37,170.81 L472.40,170.74 M442.10,163.70 L445.13,163.66 L448.16,164.08 L451.19,164.90 L454.22,166.06 L457.25,167.44 L460.28,168.90 L463.31,170.29 L466.34,171.50 L469.37,172.39 L472.40,172.87 M442.10,166.50 L445.13,167.10 L448.16,168.12 L451.19,169.47 L454.22,171.02 L457.25,172.60 L460.28,174.08 L463.31,175.29 L466.34,176.13 L469.37,176.51 L472.40,176.40 M472.40,93.50 L475.34,93.40 L478.28,93.28 L481.22,93.16 L484.16,93.04 L487.10,92.95 L490.04,92.89 L492.98,92.86 L495.92,92.87 L498.86,92.92 L501.80,93.00 M472.40,96.30 L475.34,96.25 L478.28,96.24 L481.22,96.28 L484.16,96.37 L487.10,96.50 L490.04,96.65 L492.98,96.81 L495.92,96.97 L498.86,97.10 L501.80,97.20 M472.40,97.60 L475.34,97.51 L478.28,97.44 L481.22,97.39 L484.16,97.37 L487.10,97.39 L490.04,97.43 L492.98,97.51 L495.92,97.60 L498.86,97.70 L501.80,97.80 M472.40,103.70 L475.34,103.74 L478.28,103.78 L481.22,103.83 L484.16,103.87 L487.10,103.90 L490.04,103.93 L492.98,103.94 L495.92,103.94 L498.86,103.93 L501.80,103.90 M472.40,105.90 L475.34,105.83 L478.28,105.82 L481.22,105.85 L484.16,105.94 L487.10,106.06 L490.04,106.21 L492.98,106.38 L495.92,106.54 L498.86,106.69 L501.80,106.80 M472.40,108.70 L475.34,108.62 L478.28,108.46 L481.22,108.23 L484.16,107.95 L487.10,107.65 L490.04,107.36 L492.98,107.11 L495.92,106.92 L498.86,106.82 L501.80,106.80 M472.40,110.30 L475.34,110.15 L478.28,109.99 L481.22,109.84 L484.16,109.71 L487.10,109.61 L490.04,109.55 L492.98,109.54 L495.92,109.59 L498.86,109.68 L501.80,109.80 M472.40,112.80 L475.34,112.92 L478.28,112.97 L481.22,112.95 L484.16,112.85 L487.10,112.69 L490.04,112.48 L492.98,112.25 L495.92,112.00 L498.86,111.78 L501.80,111.60 M472.40,115.30 L475.34,115.25 L478.28,115.20 L481.22,115.16 L484.16,115.13 L487.10,115.12 L490.04,115.13 L492.98,115.16 L495.92,115.20 L498.86,115.25 L501.80,115.30 M472.40,117.80 L475.34,117.82 L478.28,117.92 L481.22,118.09 L484.16,118.31 L487.10,118.55 L490.04,118.80 L492.98,119.03 L495.92,119.22 L498.86,119.35 L501.80,119.40 M472.40,121.00 L475.34,121.02 L478.28,121.03 L481.22,121.02 L484.16,120.99 L487.10,120.95 L490.04,120.90 L492.98,120.84 L495.92,120.79 L498.86,120.74 L501.80,120.70 M472.40,129.00 L475.34,129.53 L478.28,130.06 L481.22,130.54 L484.16,130.92 L487.10,131.17 L490.04,131.26 L492.98,131.18 L495.92,130.95 L498.86,130.57 L501.80,130.10 M472.40,134.70 L475.34,134.49 L478.28,134.07 L481.22,133.50 L484.16,132.81 L487.10,132.08 L490.04,131.39 L492.98,130.79 L495.92,130.35 L498.86,130.11 L501.80,130.10 M472.40,131.40 L475.34,131.96 L478.28,132.56 L481.22,133.14 L484.16,133.65 L487.10,134.02 L490.04,134.23 L492.98,134.26 L495.92,134.10 L498.86,133.77 L501.80,133.30 M472.40,139.70 L475.34,139.65 L478.28,139.48 L481.22,139.23 L484.16,138.91 L487.10,138.56 L490.04,138.20 L492.98,137.88 L495.92,137.62 L498.86,137.46 L501.80,137.40 M472.40,137.20 L475.34,137.24 L478.28,137.29 L481.22,137.34 L484.16,137.39 L487.10,137.43 L490.04,137.45 L492.98,137.46 L495.92,137.46 L498.86,137.43 L501.80,137.40 M472.40,142.20 L475.34,142.20 L478.28,142.14 L481.22,142.03 L484.16,141.87 L487.10,141.69 L490.04,141.50 L492.98,141.32 L495.92,141.17 L498.86,141.06 L501.80,141.00 M472.40,145.50 L475.34,144.83 L478.28,144.07 L481.22,143.30 L484.16,142.60 L487.10,142.02 L490.04,141.64 L492.98,141.48 L495.92,141.56 L498.86,141.88 L501.80,142.40 M472.40,147.10 L475.34,146.99 L478.28,146.81 L481.22,146.58 L484.16,146.32 L487.10,146.06 L490.04,145.83 L492.98,145.64 L495.92,145.51 L498.86,145.47 L501.80,145.50 M472.40,150.40 L475.34,149.94 L478.28,149.41 L481.22,148.84 L484.16,148.30 L487.10,147.83 L490.04,147.49 L492.98,147.31 L495.92,147.30 L498.86,147.47 L501.80,147.80 M472.40,152.90 L475.34,152.22 L478.28,151.47 L481.22,150.72 L484.16,150.05 L487.10,149.52 L490.04,149.18 L492.98,149.07 L495.92,149.20 L498.86,149.56 L501.80,150.10 M472.40,155.20 L475.34,155.44 L478.28,155.42 L481.22,155.12 L484.16,154.58 L487.10,153.85 L490.04,153.00 L492.98,152.12 L495.92,151.29 L498.86,150.59 L501.80,150.10 M472.40,157.90 L475.34,157.37 L478.28,156.64 L481.22,155.79 L484.16,154.89 L487.10,154.04 L490.04,153.32 L492.98,152.79 L495.92,152.52 L498.86,152.52 L501.80,152.80 M472.40,162.00 L475.34,161.80 L478.28,161.28 L481.22,160.49 L484.16,159.52 L487.10,158.44 L490.04,157.38 L492.98,156.44 L495.92,155.70 L498.86,155.24 L501.80,155.10 M472.40,159.50 L475.34,159.74 L478.28,159.87 L481.22,159.88 L484.16,159.77 L487.10,159.55 L490.04,159.24 L492.98,158.88 L495.92,158.49 L498.86,158.12 L501.80,157.80 M472.40,164.00 L475.34,163.92 L478.28,163.54 L481.22,162.90 L484.16,162.07 L487.10,161.13 L490.04,160.16 L492.98,159.26 L495.92,158.52 L498.86,158.02 L501.80,157.80 M472.40,171.80 L475.34,171.55 L478.28,170.79 L481.22,169.61 L484.16,168.11 L487.10,166.44 L490.04,164.77 L492.98,163.26 L495.92,162.06 L498.86,161.28 L501.80,161.00 M472.40,173.68 L475.34,173.64 L478.28,173.12 L481.22,172.17 L484.16,170.88 L487.10,169.37 L490.04,167.80 L492.98,166.31 L495.92,165.05 L498.86,164.15 L501.80,163.70 M472.40,176.40 L475.34,176.20 L478.28,175.54 L481.22,174.48 L484.16,173.12 L487.10,171.59 L490.04,170.06 L492.98,168.66 L495.92,167.53 L498.86,166.79 L501.80,166.50 M501.80,93.00 L505.28,93.09 L508.76,93.19 L512.24,93.30 L515.72,93.40 L519.20,93.49 L522.68,93.55 L526.16,93.59 L529.64,93.59 L533.12,93.56 L536.60,93.50 M501.80,97.20 L505.28,97.34 L508.76,97.46 L512.24,97.54 L515.72,97.60 L519.20,97.60 L522.68,97.56 L526.16,97.49 L529.64,97.38 L533.12,97.24 L536.60,97.10 M501.80,97.80 L505.28,98.04 L508.76,98.41 L512.24,98.87 L515.72,99.38 L519.20,99.88 L522.68,100.33 L526.16,100.69 L529.64,100.92 L533.12,100.99 L536.60,100.90 M501.80,103.90 L505.28,103.74 L508.76,103.44 L512.24,103.05 L515.72,102.59 L519.20,102.11 L522.68,101.66 L526.16,101.28 L529.64,101.02 L533.12,100.88 L536.60,100.90 M501.80,106.80 L505.28,106.75 L508.76,106.55 L512.24,106.22 L515.72,105.80 L519.20,105.32 L522.68,104.84 L526.16,104.40 L529.64,104.04 L533.12,103.80 L536.60,103.70 M501.80,106.80 L505.28,106.95 L508.76,107.06 L512.24,107.11 L515.72,107.10 L519.20,107.03 L522.68,106.91 L526.16,106.75 L529.64,106.57 L533.12,106.38 L536.60,106.20 M501.80,109.80 L505.28,109.88 L508.76,109.85 L512.24,109.72 L515.72,109.50 L519.20,109.21 L522.68,108.88 L526.16,108.54 L529.64,108.23 L533.12,107.98 L536.60,107.80 M501.80,111.60 L505.28,111.43 L508.76,111.22 L512.24,110.98 L515.72,110.74 L519.20,110.51 L522.68,110.34 L526.16,110.22 L529.64,110.17 L533.12,110.20 L536.60,110.30 M501.80,115.30 L505.28,115.13 L508.76,114.92 L512.24,114.69 L515.72,114.45 L519.20,114.25 L522.68,114.08 L526.16,113.98 L529.64,113.95 L533.12,113.99 L536.60,114.10 M501.80,119.40 L505.28,119.34 L508.76,119.21 L512.24,119.01 L515.72,118.78 L519.20,118.53 L522.68,118.29 L526.16,118.07 L529.64,117.91 L533.12,117.82 L536.60,117.80 M501.80,120.70 L505.28,120.54 L508.76,120.40 L512.24,120.29 L515.72,120.21 L519.20,120.19 L522.68,120.21 L526.16,120.29 L529.64,120.40 L533.12,120.54 L536.60,120.70 M501.80,130.10 L505.28,129.75 L508.76,129.39 L512.24,129.03 L515.72,128.73 L519.20,128.51 L522.68,128.39 L526.16,128.39 L529.64,128.50 L533.12,128.71 L536.60,129.00 M501.80,130.10 L505.28,129.59 L508.76,129.17 L512.24,128.88 L515.72,128.75 L519.20,128.79 L522.68,129.00 L526.16,129.35 L529.64,129.82 L533.12,130.35 L536.60,130.90 M501.80,133.30 L505.28,133.52 L508.76,133.76 L512.24,133.97 L515.72,134.15 L519.20,134.28 L522.68,134.34 L526.16,134.32 L529.64,134.24 L533.12,134.09 L536.60,133.90 M501.80,137.40 L505.28,137.73 L508.76,137.97 L512.24,138.11 L515.72,138.13 L519.20,138.04 L522.68,137.83 L526.16,137.52 L529.64,137.16 L533.12,136.78 L536.60,136.40 M501.80,137.40 L505.28,137.95 L508.76,138.55 L512.24,139.16 L515.72,139.71 L519.20,140.14 L522.68,140.42 L526.16,140.51 L529.64,140.41 L533.12,140.13 L536.60,139.70 M501.80,141.00 L505.28,140.62 L508.76,140.38 L512.24,140.29 L515.72,140.38 L519.20,140.62 L522.68,140.99 L526.16,141.47 L529.64,142.00 L533.12,142.52 L536.60,143.00 M501.80,142.40 L505.28,142.74 L508.76,143.20 L512.24,143.74 L515.72,144.29 L519.20,144.81 L522.68,145.25 L526.16,145.56 L529.64,145.71 L533.12,145.69 L536.60,145.50 M501.80,145.50 L505.28,145.78 L508.76,146.19 L512.24,146.70 L515.72,147.25 L519.20,147.79 L522.68,148.27 L526.16,148.64 L529.64,148.86 L533.12,148.92 L536.60,148.80 M501.80,147.80 L505.28,147.44 L508.76,147.29 L512.24,147.37 L515.72,147.65 L519.20,148.12 L522.68,148.73 L526.16,149.42 L529.64,150.13 L533.12,150.77 L536.60,151.30 M501.80,150.10 L505.28,150.66 L508.76,151.35 L512.24,152.10 L515.72,152.83 L519.20,153.48 L522.68,153.98 L526.16,154.28 L529.64,154.35 L533.12,154.18 L536.60,153.80 M501.80,150.10 L505.28,150.83 L508.76,151.78 L512.24,152.87 L515.72,153.99 L519.20,155.02 L522.68,155.87 L526.16,156.46 L529.64,156.72 L533.12,156.63 L536.60,156.20 M501.80,152.80 L505.28,152.60 L508.76,152.70 L512.24,153.11 L515.72,153.77 L519.20,154.63 L522.68,155.59 L526.16,156.58 L529.64,157.48 L533.12,158.21 L536.60,158.70 M501.80,155.10 L505.28,155.81 L508.76,156.77 L512.24,157.86 L515.72,159.00 L519.20,160.06 L522.68,160.94 L526.16,161.57 L529.64,161.86 L533.12,161.81 L536.60,161.40 M501.80,157.80 L505.28,157.81 L508.76,158.08 L512.24,158.58 L515.72,159.28 L519.20,160.09 L522.68,160.95 L526.16,161.76 L529.64,162.45 L533.12,162.94 L536.60,163.20 M501.80,157.80 L505.28,158.00 L508.76,158.60 L512.24,159.55 L515.72,160.76 L519.20,162.10 L522.68,163.45 L526.16,164.67 L529.64,165.64 L533.12,166.27 L536.60,166.50 M501.80,161.00 L505.28,161.48 L508.76,162.36 L512.24,163.58 L515.72,165.00 L519.20,166.48 L522.68,167.89 L526.16,169.08 L529.64,169.94 L533.12,170.39 L536.60,170.37 M501.80,163.70 L505.28,163.89 L508.76,164.54 L512.24,165.59 L515.72,166.93 L519.20,168.43 L522.68,169.95 L526.16,171.34 L529.64,172.46 L533.12,173.20 L536.60,173.49 M501.80,166.50 L505.28,166.62 L508.76,167.22 L512.24,168.23 L515.72,169.55 L519.20,171.06 L522.68,172.61 L526.16,174.05 L529.64,175.23 L533.12,176.04 L536.60,176.40 M327.40,199.00 L329.22,197.32 L331.04,195.64 L332.86,193.98 L334.67,192.33 L336.49,190.72 L338.31,189.13 L340.13,187.58 L341.95,186.07 L343.77,184.61 L345.59,183.20 L347.41,181.85 L349.23,180.55 L351.04,179.32 L352.86,178.15 L354.68,177.04 L356.50,176.00 M327.40,199.00 L329.22,197.38 L331.04,195.76 L332.86,194.15 L334.67,192.57 L336.49,191.00 L338.31,189.47 L340.13,187.98 L341.95,186.52 L343.77,185.11 L345.59,183.75 L347.41,182.44 L349.23,181.19 L351.04,180.00 L352.86,178.87 L354.68,177.80 L356.50,176.80 M327.40,199.00 L343.80,172.00 L345.39,172.29 L346.98,172.57 L348.56,172.83 L350.15,173.06 L351.74,173.25 L353.32,173.39 L354.91,173.47 L356.50,173.50 M356.50,178.60 L358.00,179.88 L359.50,181.15 L361.00,182.42 L362.50,183.70 L364.00,184.97 L365.50,186.25 L367.00,187.53 L368.50,188.80 L370.00,190.07 L371.50,191.35 L373.00,192.62 L374.50,193.90 L376.00,195.18 L377.50,196.45 L379.00,197.72 L380.50,199.00 M356.50,179.40 L358.00,180.62 L359.50,181.85 L361.00,183.08 L362.50,184.30 L364.00,185.53 L365.50,186.75 L367.00,187.97 L368.50,189.20 L370.00,190.43 L371.50,191.65 L373.00,192.88 L374.50,194.10 L376.00,195.32 L377.50,196.55 L379.00,197.78 L380.50,199.00 M356.50,164.50 L358.00,166.26 L359.50,168.08 L361.00,169.97 L362.50,171.93 L364.00,173.94 L365.50,176.01 L367.00,178.14 L368.50,180.32 L370.00,182.55 L371.50,184.82 L373.00,187.12 L374.50,189.46 L376.00,191.82 L377.50,194.20 L379.00,196.60 L380.50,199.00 M380.50,199.00 L398.90,174.90 L399.85,174.43 L400.80,173.98 L401.75,173.57 L402.70,173.20 L403.65,172.90 L404.60,172.68 L405.55,172.55 L406.50,172.50 M380.50,199.00 L382.12,197.24 L383.75,195.48 L385.38,193.74 L387.00,192.03 L388.62,190.35 L390.25,188.71 L391.88,187.13 L393.50,185.59 L395.12,184.13 L396.75,182.73 L398.38,181.40 L400.00,180.15 L401.62,178.98 L403.25,177.90 L404.88,176.91 L406.50,176.00 M380.50,199.00 L382.12,197.30 L383.75,195.60 L385.38,193.92 L387.00,192.27 L388.62,190.65 L390.25,189.07 L391.88,187.54 L393.50,186.06 L395.12,184.64 L396.75,183.29 L398.38,182.01 L400.00,180.81 L401.62,179.68 L403.25,178.64 L404.88,177.68 L406.50,176.80 M406.50,174.90 L408.73,175.43 L410.95,176.13 L413.18,176.98 L415.40,177.99 L417.62,179.15 L419.85,180.45 L422.07,181.89 L424.30,183.46 L426.53,185.13 L428.75,186.92 L430.98,188.79 L433.20,190.74 L435.43,192.75 L437.65,194.81 L439.88,196.89 L442.10,199.00 M406.50,175.70 L408.73,176.22 L410.95,176.89 L413.18,177.71 L415.40,178.69 L417.62,179.81 L419.85,181.07 L422.07,182.46 L424.30,183.97 L426.53,185.59 L428.75,187.32 L430.98,189.13 L433.20,191.01 L435.43,192.95 L437.65,194.94 L439.88,196.96 L442.10,199.00 M406.50,160.50 L412.00,160.80 L418.00,161.80 L423.80,163.30 L432.95,181.15 L442.10,199.00 M442.10,199.00 L457.40,179.00 L459.27,178.51 L461.15,178.04 L463.02,177.61 L464.90,177.23 L466.77,176.92 L468.65,176.69 L470.52,176.55 L472.40,176.50 M442.10,199.00 L443.99,197.35 L445.89,195.71 L447.78,194.09 L449.68,192.48 L451.57,190.90 L453.46,189.34 L455.36,187.83 L457.25,186.35 L459.14,184.92 L461.04,183.54 L462.93,182.22 L464.82,180.95 L466.72,179.74 L468.61,178.60 L470.51,177.52 L472.40,176.50 M442.10,199.00 L443.99,197.92 L445.89,196.86 L447.78,195.80 L449.68,194.76 L451.57,193.75 L453.46,192.77 L455.36,191.82 L457.25,190.91 L459.14,190.05 L461.04,189.24 L462.93,188.48 L464.82,187.79 L466.72,187.14 L468.61,186.57 L470.51,186.05 L472.40,185.60 M472.40,171.60 L474.24,171.73 L476.07,172.13 L477.91,172.78 L479.75,173.69 L481.59,174.84 L483.43,176.22 L485.26,177.82 L487.10,179.63 L488.94,181.62 L490.77,183.78 L492.61,186.08 L494.45,188.51 L496.29,191.05 L498.12,193.65 L499.96,196.31 L501.80,199.00 M472.40,176.50 L474.24,177.65 L476.07,178.84 L477.91,180.07 L479.75,181.34 L481.59,182.66 L483.43,184.01 L485.26,185.40 L487.10,186.82 L488.94,188.27 L490.77,189.75 L492.61,191.25 L494.45,192.78 L496.29,194.32 L498.12,195.87 L499.96,197.43 L501.80,199.00 M472.40,178.60 L474.24,179.64 L476.07,180.72 L477.91,181.84 L479.75,182.99 L481.59,184.18 L483.43,185.41 L485.26,186.67 L487.10,187.96 L488.94,189.27 L490.77,190.61 L492.61,191.98 L494.45,193.36 L496.29,194.76 L498.12,196.16 L499.96,197.58 L501.80,199.00 M501.80,199.00 L518.70,171.60 L520.94,171.39 L523.18,171.18 L525.41,170.99 L527.65,170.82 L529.89,170.69 L532.12,170.58 L534.36,170.52 L536.60,170.50 M501.80,199.00 L503.98,197.07 L506.15,195.14 L508.32,193.24 L510.50,191.38 L512.68,189.55 L514.85,187.79 L517.02,186.08 L519.20,184.45 L521.38,182.91 L523.55,181.45 L525.73,180.09 L527.90,178.83 L530.08,177.68 L532.25,176.64 L534.43,175.71 L536.60,174.90 M501.80,199.00 L503.98,197.19 L506.15,195.38 L508.32,193.60 L510.50,191.85 L512.68,190.14 L514.85,188.48 L517.02,186.89 L519.20,185.36 L521.38,183.91 L523.55,182.54 L525.73,181.27 L527.90,180.09 L530.08,179.01 L532.25,178.03 L534.43,177.16 L536.60,176.40" fill="none" stroke="#1414fa" stroke-width="1.0" stroke-linejoin="round"/>
<line x1="356.5" y1="42.3" x2="356.5" y2="206.7" stroke="#c0c0c0" stroke-width="1.0"/>
<line x1="380.5" y1="42.3" x2="380.5" y2="206.7" stroke="#c0c0c0" stroke-width="1.0"/>
<line x1="406.5" y1="42.3" x2="406.5" y2="206.7" stroke="#c0c0c0" stroke-width="1.0"/>
<line x1="442.1" y1="42.3" x2="442.1" y2="206.7" stroke="#c0c0c0" stroke-width="1.0"/>
<line x1="472.4" y1="42.3" x2="472.4" y2="206.7" stroke="#c0c0c0" stroke-width="1.0"/>
<line x1="501.8" y1="42.3" x2="501.8" y2="206.7" stroke="#c0c0c0" stroke-width="1.0"/>
<line x1="327.4" y1="199.2" x2="536.6" y2="199.2" stroke="#8a8a8a" stroke-width="0.9" stroke-dasharray="2.2,1.6"/>
<rect x="327.4" y="42.3" width="209.20" height="164.40" fill="none" stroke="#959595" stroke-width="1.15"/>
<line x1="324.20" y1="199.00" x2="327.4" y2="199.00" stroke="#959595" stroke-width="1.15"/>
<line x1="325.60" y1="179.41" x2="327.4" y2="179.41" stroke="#959595" stroke-width="1.15"/>
<line x1="324.20" y1="159.82" x2="327.4" y2="159.82" stroke="#959595" stroke-width="1.15"/>
<line x1="325.60" y1="140.24" x2="327.4" y2="140.24" stroke="#959595" stroke-width="1.15"/>
<line x1="324.20" y1="120.65" x2="327.4" y2="120.65" stroke="#959595" stroke-width="1.15"/>
<line x1="325.60" y1="101.06" x2="327.4" y2="101.06" stroke="#959595" stroke-width="1.15"/>
<line x1="324.20" y1="81.47" x2="327.4" y2="81.47" stroke="#959595" stroke-width="1.15"/>
<line x1="325.60" y1="61.89" x2="327.4" y2="61.89" stroke="#959595" stroke-width="1.15"/>
<line x1="324.20" y1="42.30" x2="327.4" y2="42.30" stroke="#959595" stroke-width="1.15"/>
<text x="321.3" y="203.30" text-anchor="end" font-size="13">0</text>
<text x="321.3" y="164.12" text-anchor="end" font-size="13">10</text>
<text x="321.3" y="124.95" text-anchor="end" font-size="13">20</text>
<text x="321.3" y="85.77" text-anchor="end" font-size="13">30</text>
<text x="321.3" y="46.60" text-anchor="end" font-size="13">40</text>
<text transform="translate(299.0,119.6) rotate(-90)" x="0" y="0" text-anchor="middle" font-size="13">Frequency (THz)</text>
<text x="287.8" y="31.6" font-size="13.4">(b)</text>
<text x="428.0" y="31.7" text-anchor="middle" font-size="13.1">Fe<tspan font-size="6.6" dy="3.5">2</tspan><tspan dy="-3.5">CO</tspan><tspan font-size="6.6" dy="3.5">4</tspan><tspan dy="-3.5">-</tspan><tspan font-style="italic">P</tspan>1</text>
<line x1="450.4" y1="20.6" x2="457.0" y2="20.6" stroke="#000" stroke-width="1.1"/>
<text x="328.10" y="221.8" text-anchor="middle" font-size="13.4">Γ</text>
<text x="355.60" y="221.8" text-anchor="middle" font-size="13.4">X|Y</text>
<text x="380.80" y="221.8" text-anchor="middle" font-size="13.4">Γ</text>
<text x="395.5" y="221.8" font-size="13.4">Z|R<tspan font-size="6.6" dy="3.5">2</tspan></text>
<text x="442.20" y="221.8" text-anchor="middle" font-size="13.4">Γ</text>
<text x="459.0" y="221.8" font-size="13.4">T<tspan font-size="6.6" dy="3.5">2</tspan><tspan dy="-3.5">|U</tspan><tspan font-size="6.6" dy="3.5">2</tspan></text>
<text x="502.00" y="221.8" text-anchor="middle" font-size="13.4">Γ</text>
<text x="531.5" y="221.8" font-size="13.4">V<tspan font-size="6.6" dy="3.5">2</tspan></text>
</svg>
</body></html>
